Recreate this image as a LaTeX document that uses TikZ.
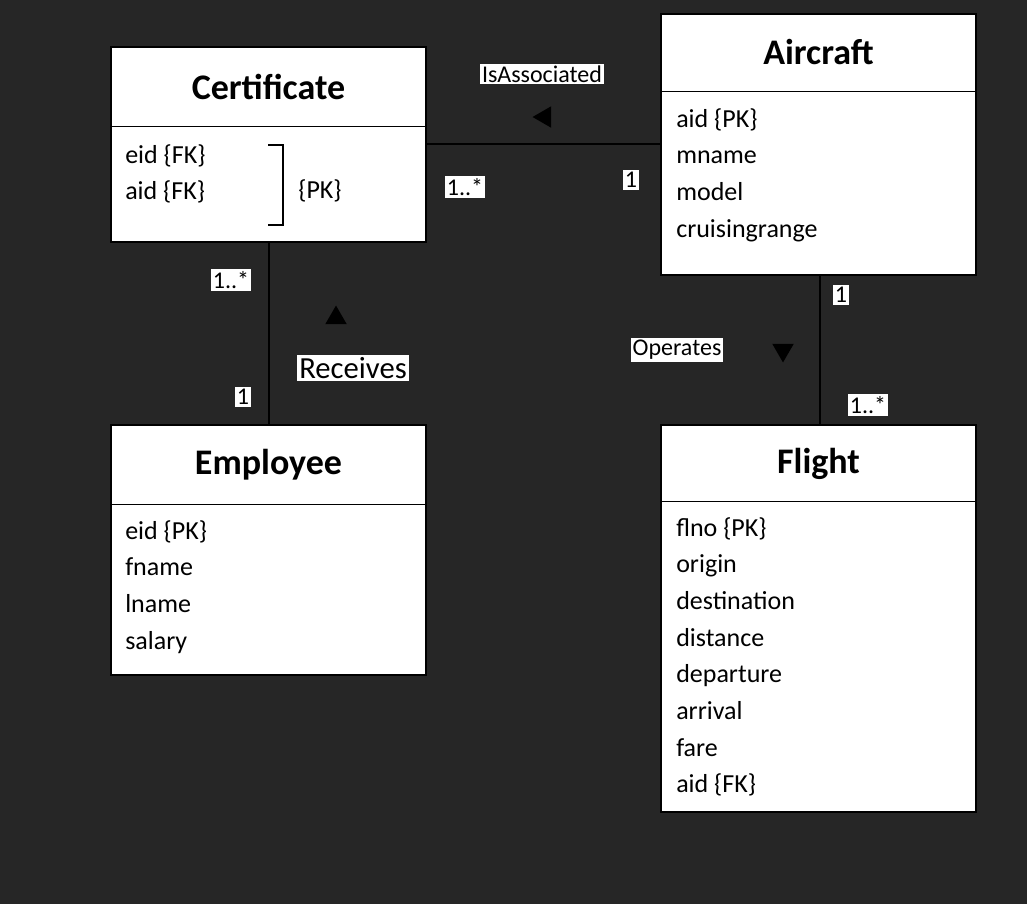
\documentclass[tikz,border=0pt]{standalone}
\usepackage{fontspec}
\setmainfont{Carlito}
\usetikzlibrary{shapes.geometric}
\begin{document}
\begin{tikzpicture}[x=0.75pt,y=-0.75pt,
  box/.style={draw=black,fill=white,line width=0.8pt},
  ttl/.style={font=\fontsize{27}{30}\selectfont\bfseries,anchor=center},
  attr/.style={font=\fontsize{19.5}{27.5}\selectfont,anchor=north west,align=left,inner sep=0pt},
  lbl/.style={fill=white,text=black,inner sep=1.5pt,font=\fontsize{18}{20}\selectfont},
  conn/.style={draw=black,line width=1pt},
  tri/.style={fill=black,inner sep=0pt}]
\fill[fill=black!85] (0,0) rectangle (1027,904);
\useasboundingbox (0,0) rectangle (1027,904);
% Certificate
\draw[box] (111,47) rectangle (426,242); \draw (111,126) -- (426,126);
\node[ttl] (cert) at (268.5,87) {Certificate};
\node[attr] (certa) at (125,144) {eid \{FK\}\\aid \{FK\}};
\draw[line width=1pt] (268,145) -- (283,145) -- (283,225) -- (268,225);
\node[font=\fontsize{19.5}{22}\selectfont] (pk) at (320,191) {\{PK\}};
% Aircraft
\draw[box] (661,14) rectangle (976,275); \draw (661,91) -- (976,91);
\node[ttl] (air) at (818.5,52) {Aircraft};
\node[attr] (aira) at (676,108) {aid \{PK\}\\mname\\model\\cruisingrange};
% Employee
\draw[box] (111,425) rectangle (426,675); \draw (111,504) -- (426,504);
\node[ttl] (emp) at (268.5,465) {Employee};
\node[attr] (empa) at (125,520) {eid \{PK\}\\fname\\lname\\salary};
% Flight
\draw[box] (661,425) rectangle (976,812); \draw (661,501) -- (976,501);
\node[ttl] (fl) at (818.5,464) {Flight};
\node[attr] (fla) at (676,517) {flno \{PK\}\\origin\\destination\\distance\\departure\\arrival\\fare\\aid \{FK\}};
% connectors
\coordinate (c1) at (426,144); \coordinate (c2) at (661,144);
\coordinate (c3) at (269,242); \coordinate (c4) at (269,425);
\coordinate (c5) at (820,275); \coordinate (c6) at (820,425);
\draw[conn] (c1) -- (c2); \draw[conn] (c3) -- (c4); \draw[conn] (c5) -- (c6);
% labels
\node[lbl] (l1) at (542,74) {IsAssociated};
\node[tri,isosceles triangle,minimum size=14pt,isosceles triangle apex angle=60,shape border rotate=180] (t1) at (545,117) {};
\node[lbl] (l2) at (465,187) {1..*};
\node[lbl] (l3) at (631,180) {1};
\node[lbl] (l4) at (231,280) {1..*};
\node[lbl] (l5) at (243,397) {1};
\node[lbl,font=\fontsize{23}{26}\selectfont] (l6) at (353,368) {Receives};
\node[tri,isosceles triangle,minimum size=14pt,isosceles triangle apex angle=60,shape border rotate=90] (t2) at (336,318) {};
\node[lbl] (l7) at (841,295) {1};
\node[lbl] (l8) at (677,350) {Operates};
\node[tri,isosceles triangle,minimum size=14pt,isosceles triangle apex angle=60,shape border rotate=-90] (t3) at (783,350) {};
\node[lbl] (l9) at (868,405) {1..*};
\end{tikzpicture}
\end{document}
